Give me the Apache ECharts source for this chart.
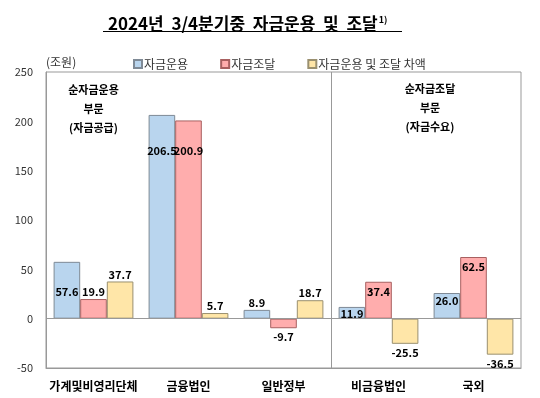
<!DOCTYPE html>
<html>
<head>
<meta charset="utf-8">
<script src="https://cdn.jsdelivr.net/npm/echarts@6/dist/echarts.min.js"></script>
<style>
  html, body { margin: 0; padding: 0; background: #fff; }
  #chart { width: 540px; height: 398px; }
</style>
</head>
<body>
<div id="chart"></div>
<script>
const categories = ['가계및비영리단체', '금융법인', '일반정부', '비금융법인', '국외']
const seriesNames = ['자금운용', '자금조달', '자금운용 및 조달 차액']
const useValues = [57.6, 206.5, 8.9, 11.9, 26.0]
const raiseValues = [19.9, 200.9, -9.7, 37.4, 62.5]
const diffValues = [37.7, 5.7, 18.7, -25.5, -36.5]
const yTicks = [-50, 0, 50, 100, 150, 200, 250]

// where each value label sits: 'out' = outside the bar end, number = px below bar top (inside)
const useLabelAt = [30, 36, 'out', 7, 8]
const raiseLabelAt = ['out', 30, 'out', 10, 10]
const diffLabelAt = ['out', 'out', 'out', 'out', 'out']

const FONT = '"Noto Sans CJK KR", "Noto Sans", sans-serif'

function buildData(values, spots) {
  return values.map((v, i) => {
    const s = spots[i]
    let label
    if (s === 'out') {
      label = { position: v < 0 ? 'bottom' : 'top', distance: v < 0 ? 3 : 1 }
    } else {
      label = { position: 'insideTop', distance: 0, offset: [0, s - 6] }
    }
    return { value: v, label: label }
  })
}

const colors = ['#b9d5ee', '#ffadad', '#ffe6a8']
const borders = ['#7f8a96', '#a86060', '#9a9070']

const chart = echarts.init(document.getElementById('chart'))

const option = {
  animation: false,
  textStyle: { fontFamily: FONT },
  title: {
    left: 103,
    top: 10,
    text: '{t|2024년  3/4분기중  자금운용  및  조달}{s|1)}',
    textStyle: {
      rich: {
        t: { fontSize: 17, fontWeight: 'bold', color: '#000', fontFamily: FONT },
        s: { fontSize: 9, fontWeight: 'bold', color: '#000', fontFamily: FONT, verticalAlign: 'top', padding: [0, 0, 8, 1] }
      }
    }
  },
  legend: {
    left: 133,
    top: 58,
    padding: 0,
    icon: 'rect',
    itemWidth: 8,
    itemHeight: 8,
    itemGap: 32,
    textStyle: { fontSize: 12, color: '#333', fontFamily: FONT, padding: [0, 0, 0, -3] },
    data: seriesNames
  },
  grid: {
    left: 46,
    right: 19,
    top: 72,
    bottom: 30,
    show: true,
    borderColor: '#999',
    borderWidth: 1
  },
  xAxis: {
    type: 'category',
    data: categories,
    axisLine: { show: true, onZero: false, lineStyle: { color: '#999' } },
    axisTick: { show: false },
    axisLabel: { interval: 0, color: '#000', fontSize: 12, fontWeight: 'bold', margin: 12, fontFamily: FONT }
  },
  yAxis: {
    type: 'value',
    min: yTicks[0],
    max: yTicks[yTicks.length - 1],
    interval: 50,
    axisLine: { show: true, lineStyle: { color: '#999' } },
    axisTick: { show: false },
    splitLine: { show: false },
    axisLabel: { color: '#333', fontSize: 11, margin: 13, fontFamily: FONT }
  },
  series: [useValues, raiseValues, diffValues].map((vals, k) => ({
    name: seriesNames[k],
    type: 'bar',
    barGap: '0%',
    barCategoryGap: '16%',
    data: buildData(vals, [useLabelAt, raiseLabelAt, diffLabelAt][k]),
    itemStyle: { color: colors[k], borderColor: borders[k], borderWidth: 1 },
    label: {
      show: true,
      color: '#000',
      fontSize: 11,
      fontWeight: 'bold',
      lineHeight: 12,
      fontFamily: FONT,
      formatter: p => p.value.toFixed(1)
    },
    markLine: k === 0 ? {
      silent: true,
      symbol: 'none',
      label: { show: false },
      lineStyle: { color: '#999', type: 'solid', width: 1 },
      data: [{ yAxis: 0 }]
    } : undefined
  }))
}

chart.setOption(option)

// divider between the two sectors, plus notes and unit
const c2 = chart.convertToPixel({ xAxisIndex: 0 }, categories[2])
const c3 = chart.convertToPixel({ xAxisIndex: 0 }, categories[3])
const divX = Math.round((c2 + c3) / 2) + 0.5
const yTop = chart.convertToPixel({ yAxisIndex: 0 }, yTicks[yTicks.length - 1])
const yBot = chart.convertToPixel({ yAxisIndex: 0 }, yTicks[0])
const c0 = chart.convertToPixel({ xAxisIndex: 0 }, categories[0])
const c4 = chart.convertToPixel({ xAxisIndex: 0 }, categories[4])

const noteStyle = { fontSize: 11, fontWeight: 'bold', fill: '#000', fontFamily: FONT, align: 'center', lineHeight: 19 }

chart.setOption({
  graphic: [
    { type: 'line', shape: { x1: divX, y1: yTop, x2: divX, y2: yBot }, style: { stroke: '#999', lineWidth: 1 }, silent: true },
    { type: 'line', shape: { x1: 103, y1: 31.5, x2: 402, y2: 31.5 }, style: { stroke: '#000', lineWidth: 1 }, silent: true },
    { type: 'text', x: 46, y: 56, style: { text: '(조원)', fontSize: 12, fill: '#333', fontFamily: FONT } },
    { type: 'text', x: c0, y: 80, style: Object.assign({ text: '순자금운용\n부문\n(자금공급)' }, noteStyle) },
    { type: 'text', x: (c3 + c4) / 2 + 4, y: 79, style: Object.assign({ text: '순자금조달\n부문\n(자금수요)' }, noteStyle) }
  ]
})
</script>
</body>
</html>
